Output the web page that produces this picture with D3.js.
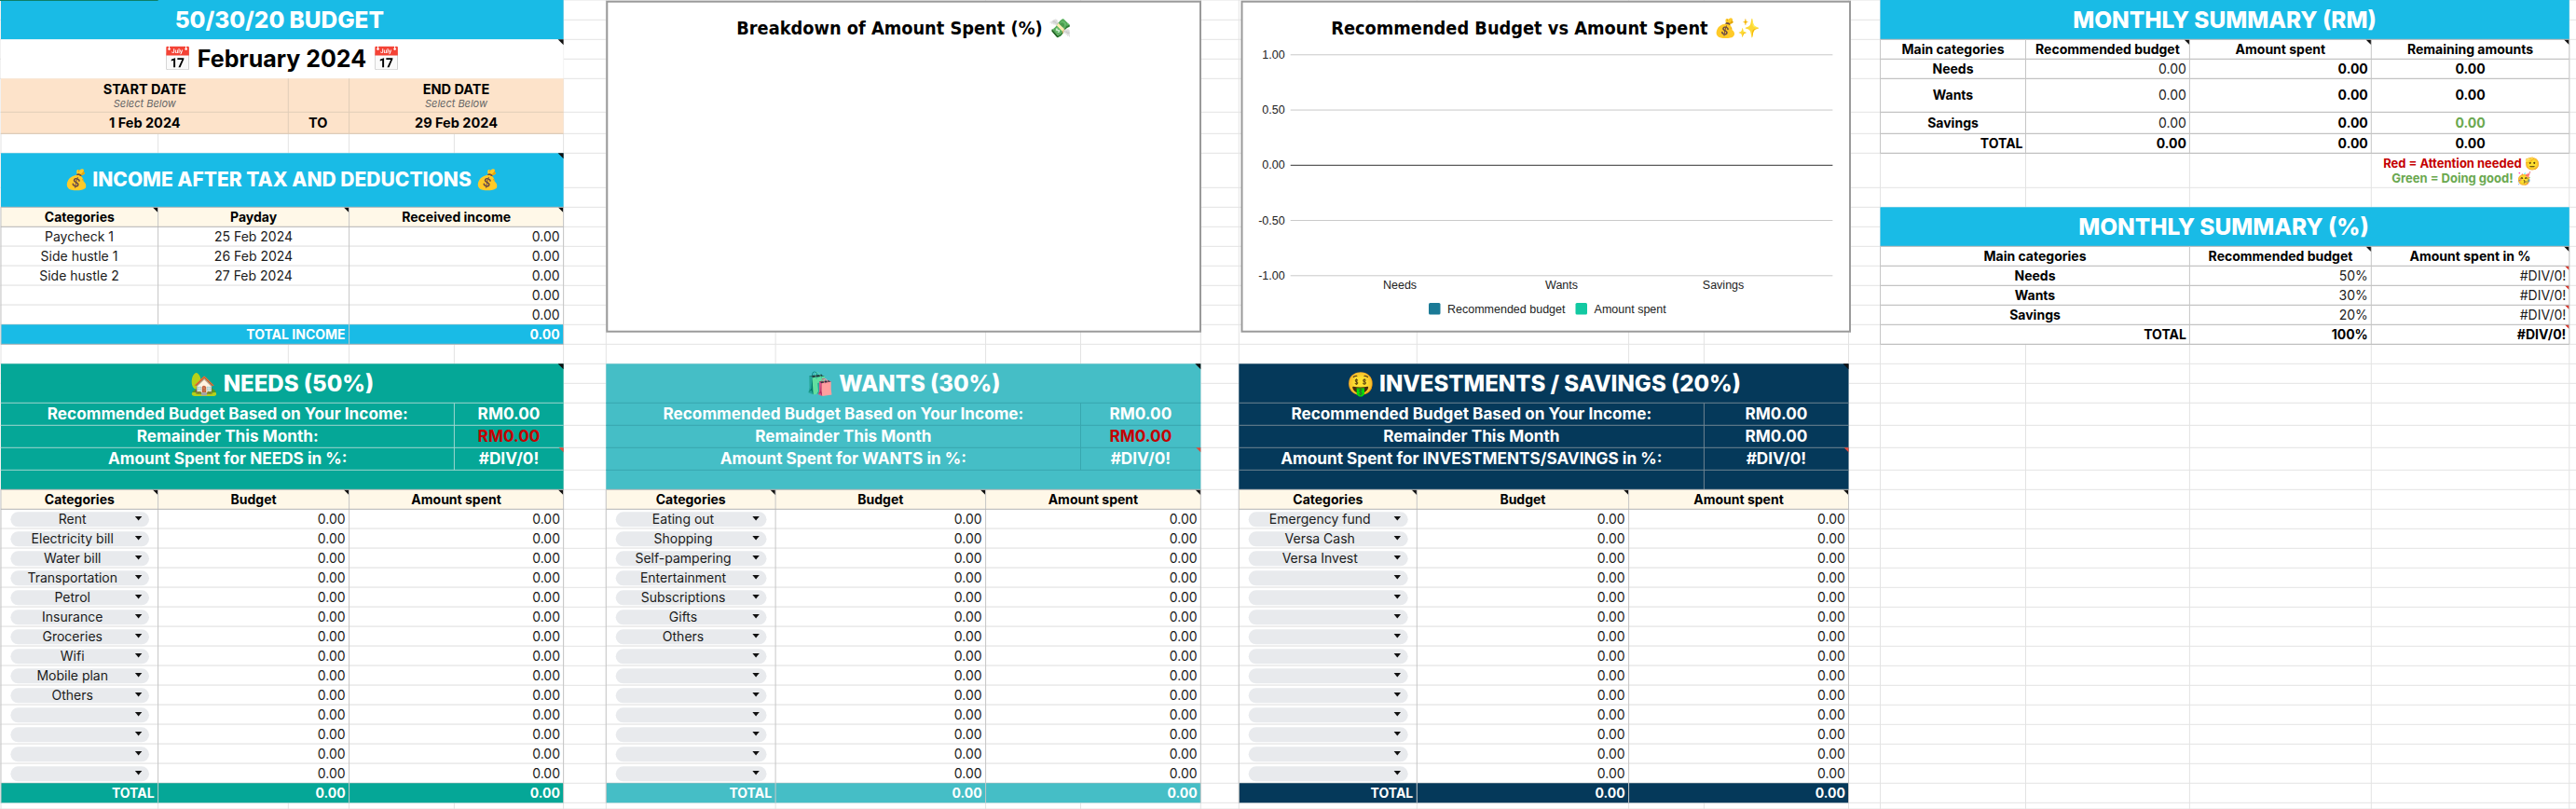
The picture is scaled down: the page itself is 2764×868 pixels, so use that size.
<!DOCTYPE html>
<html><head><meta charset="utf-8">
<script src="https://cdn.jsdelivr.net/npm/d3@7/dist/d3.min.js"></script>
<style>html,body{margin:0;padding:0;background:#fff;overflow:hidden}
text{font-family:Inter,"Noto Sans",sans-serif}</style></head>
<body><svg id="s" width="2764" height="868" viewBox="0 0 2764 868"></svg>
<script>
// ---------- data ----------
const needsCategories=["Rent","Electricity bill","Water bill","Transportation","Petrol","Insurance","Groceries","Wifi","Mobile plan","Others","","","",""];
const wantsCategories=["Eating out","Shopping","Self-pampering","Entertainment","Subscriptions","Gifts","Others","","","","","","",""];
const savingsCategories=["Emergency fund","Versa Cash","Versa Invest","","","","","","","","","","",""];
const needsBudget=[0,0,0,0,0,0,0,0,0,0,0,0,0,0];
const needsSpent=[0,0,0,0,0,0,0,0,0,0,0,0,0,0];
const wantsBudget=[0,0,0,0,0,0,0,0,0,0,0,0,0,0];
const wantsSpent=[0,0,0,0,0,0,0,0,0,0,0,0,0,0];
const savingsBudget=[0,0,0,0,0,0,0,0,0,0,0,0,0,0];
const savingsSpent=[0,0,0,0,0,0,0,0,0,0,0,0,0,0];
const incomeCategories=["Paycheck 1","Side hustle 1","Side hustle 2","",""];
const incomePaydays=["25 Feb 2024","26 Feb 2024","27 Feb 2024","",""];
const incomeReceived=[0,0,0,0,0];
const summaryCategories=["Needs","Wants","Savings"];
const recommendedBudget=[0,0,0];
const amountSpent=[0,0,0];
const remainingAmounts=[0,0,0];
const recommendedPct=["50%","30%","20%"];
const spentPct=["#DIV/0!","#DIV/0!","#DIV/0!"];
const yTickValues=[-1,-0.5,0,0.5,1];
const seriesNames=["Recommended budget","Amount spent"];
const breakdownValues=[0,0,0];

// ---------- layout ----------
const W=2764,H=868;
const rowYs=[0,21.3,42.3,63.3,84.3,120.3,143.3,164.3,201.3,222.3,243.3,264.3,285.3,306.3,327.3,348.3,369.3,390.3,411.3,432.3,456.3,480.3,504.3,525.3,546.3,567.3,588.3,609.3,630.3,651.3,672.3,693.3,714.3,735.3,756.3,777.3,798.3,819.3,840.3,861.3];
const colXs=[1,169.6,309.3,374.6,487.4,604.6,650.3,832.1,1057.6,1159.5,1288.3,1329.3,1520.3,1747.6,1828.4,1983.5,2017.5,2173.5,2349.4,2544.3,2756.8];
const C={sky:"#19bbe6",needs:"#05a797",wants:"#45bec6",save:"#05395a",cream:"#fff8e8",peach:"#fde3ca",pill:"#e8eaed",red:"#c40000",green:"#6aa84f",grid:"#e3e3e3",rule:"#b4b4b4",vrule:"#c6c6c6",ink:"#1a1a1a"};
const F={big:25,sec:24.4,sub:17.2,head:14,cell:14};
const W800=800;

const svg=d3.select("#s");
const rect=(x0,y0,x1,y1,fill)=>svg.append("rect").attr("x",x0).attr("y",y0).attr("width",x1-x0).attr("height",y1-y0).attr("fill",fill);
const line=(x0,y0,x1,y1,c,w=1)=>svg.append("line").attr("x1",x0).attr("y1",y0).attr("x2",x1).attr("y2",y1).attr("stroke",c).attr("stroke-width",w);
function txt(x,y,s,o={}){
  const t=svg.append("text").attr("x",x).attr("y",y).attr("dy","0.36em").text(s)
   .attr("font-size",o.size||F.cell).attr("font-weight",o.weight||400).attr("fill",o.fill||C.ink)
   .attr("text-anchor",o.anchor||"middle");
  if(o.italic)t.attr("font-style","italic");
  if(o.family)t.style("font-family",o.family);
  return t;
}
const tri=(xr,yt,c="#111",s=6)=>svg.append("path").attr("d",`M${xr-s},${yt}L${xr},${yt}L${xr},${yt+s}Z`).attr("fill",c);
const num=v=>v.toFixed(2);

// ---------- sheet grid ----------
rect(0,0,W,H,"#fff");
rowYs.concat([868]).forEach(y=>line(0,y,W,y,C.grid));
colXs.forEach(x=>line(x,0,x,H,C.grid));

// ---------- top left panel ----------
const L=1,R=604.6;
rect(L,0,R,42.3,C.sky);
line(0,0.5,169.6,0.5,"#0d7f66",1);
txt((L+R)/2-3,21.3,"50/30/20 BUDGET",{size:F.sec,weight:W800,fill:"#fff"});
rect(L,42.3,R,84.3,"#fff");
txt(302.5,63.3,"📅 February 2024 📅",{size:F.big,weight:700,fill:"#000"});
tri(R,42.3);
rect(L,84.3,R,143.3,C.peach);
line(L,120.3,R,120.3,"#e0cdb8");line(L,143.3,R,143.3,"#d8c6b2");
line(309.3,84.3,309.3,143.3,"#e0cdb8");line(374.6,84.3,374.6,143.3,"#e0cdb8");
txt(155.3,96,"START DATE",{size:F.head+.5,weight:700,fill:"#000"});
txt(489.5,96,"END DATE",{size:F.head+.5,weight:700,fill:"#000"});
txt(155.3,111.5,"Select Below",{size:11,italic:true,fill:"#666"});
txt(489.5,111.5,"Select Below",{size:11,italic:true,fill:"#666"});
txt(155.3,132,"1 Feb 2024",{size:F.head+.5,weight:700,fill:"#000"});
txt(341.3,132,"TO",{size:F.head+.5,weight:700,fill:"#000"});
txt(489.5,132,"29 Feb 2024",{size:F.head+.5,weight:700,fill:"#000"});

// ---------- income ----------
rect(L,164.3,R,222.3,C.sky);tri(R,164.3);
txt(302.5,192.7,"💰 INCOME AFTER TAX AND DEDUCTIONS 💰",{size:21,weight:W800,fill:"#fff"});
const incX=[L,169.6,374.6,R];
rect(L,222.3,R,243.3,C.cream);
["Categories","Payday","Received income"].forEach((h,i)=>{txt((incX[i]+incX[i+1])/2,233,h,{size:F.head,weight:700,fill:"#000"});tri(incX[i+1],222.3);});
const incY=d3.scaleBand().domain(d3.range(incomeReceived.length)).range([243.3,348.3]);
incomeReceived.forEach((v,i)=>{
  const y=incY(i),c=y+incY.bandwidth()/2;
  rect(L,y,R,y+21,"#fff");
  txt(85,c,incomeCategories[i]);
  txt(272,c,incomePaydays[i]);
  txt(R-4,c,num(v),{anchor:"end"});
  line(L,y+21,R,y+21,C.rule);
});
rect(L,348.3,R,369.3,C.sky);
txt(370.6,358.8,"TOTAL INCOME",{anchor:"end",size:F.head,weight:700,fill:"#fff"});
txt(R-4,358.8,num(d3.sum(incomeReceived)),{anchor:"end",size:F.head,weight:700,fill:"#fff"});
line(169.6,222.3,169.6,348.3,C.vrule);
line(374.6,222.3,374.6,369.3,C.vrule);
[L,R].forEach(x=>line(x,222.3,x,369.3,C.vrule));
line(L,222.3,R,222.3,C.rule);line(L,243.3,R,243.3,C.rule);line(L,369.3,R,369.3,C.rule);

// ---------- three budget blocks ----------
function block(b){
  const [x0,x1,x2,x3,x4]=b.cols;
  rect(x0,390.3,x4,525.3,b.color);tri(x4,390.3);
  txt((x0+x4)/2,411.7,b.title,{size:F.sec-.4,weight:W800,fill:"#fff"});
  [432.3,456.3,480.3,504.3].forEach(y=>line(x0,y,x4,y,b.rule));
  line(x3,432.3,x3,b.vEnd,b.rule);
  const mid=(x0+x3)/2,vm=(x3+x4)/2;
  b.rows.forEach((r,i)=>{
    const y=[444.3,468.3,492.3][i];
    txt(mid,y,r,{size:F.sub,weight:700,fill:"#fff"});
    txt(vm,y,b.vals[i],{size:F.sub,weight:700,fill:b.valFill[i]});
  });
  tri(x4,480.3,"#e04a3c",5);
  rect(x0,525.3,x4,546.3,C.cream);
  [["Categories",x0,x1],["Budget",x1,x2],["Amount spent",x2,x4]].forEach(([h,a,c])=>{txt((a+c)/2,536,h,{size:F.head,weight:700,fill:"#000"});tri(c,525.3);});
  const y=d3.scaleBand().domain(d3.range(b.cats.length)).range([546.3,840.3]);
  b.cats.forEach((n,i)=>{
    const t=y(i),c=t+y.bandwidth()/2;
    rect(x0,t,x4,t+21,"#fff");
    rect(x0+10.4,t+3,x1-9.6,t+19,C.pill).attr("rx",8);
    txt(x0+(x1-x0)*0.455,c,n);
    const ax=x1-21;
    svg.append("path").attr("d",`M${ax-3.7},${c-2.8}L${ax+3.7},${c-2.8}L${ax},${c+1.6}Z`).attr("fill","#111");
    txt(x2-4,c,num(b.budget[i]),{anchor:"end"});
    txt(x4-3.6,c,num(b.spent[i]),{anchor:"end"});
    line(x0,t+21,x4,t+21,C.rule);
  });
  rect(x0,840.3,x4,861.3,b.color);
  txt(x1-4,851,"TOTAL",{anchor:"end",size:F.head,weight:700,fill:"#fff"});
  txt(x2-4,851,num(d3.sum(b.budget)),{anchor:"end",size:F.head,weight:700,fill:"#fff"});
  txt(x4-3.6,851,num(d3.sum(b.spent)),{anchor:"end",size:F.head,weight:700,fill:"#fff"});
  [x0,x1,x2,x4].forEach(x=>line(x,525.3,x,861.3,C.vrule));
  line(x0,525.3,x4,525.3,C.rule);line(x0,546.3,x4,546.3,C.rule);
}
block({cols:[1,169.6,374.6,487.4,604.6],color:C.needs,rule:"#9fd6cf",vEnd:504.3,title:"🏡 NEEDS (50%)",cats:needsCategories,budget:needsBudget,spent:needsSpent,
  rows:["Recommended Budget Based on Your Income:","Remainder This Month:","Amount Spent for NEEDS in %:"],vals:["RM0.00","RM0.00","#DIV/0!"],valFill:["#fff",C.red,"#fff"]});
block({cols:[650.3,832.1,1057.6,1159.5,1288.3],color:C.wants,rule:"#38a6ae",vEnd:504.3,title:"🛍️ WANTS (30%)",cats:wantsCategories,budget:wantsBudget,spent:wantsSpent,
  rows:["Recommended Budget Based on Your Income:","Remainder This Month","Amount Spent for WANTS in %:"],vals:["RM0.00","RM0.00","#DIV/0!"],valFill:["#fff",C.red,"#fff"]});
block({cols:[1329.3,1520.3,1747.6,1828.4,1983.5],color:C.save,rule:"#6f8592",vEnd:525.3,title:"🤑 INVESTMENTS / SAVINGS (20%)",cats:savingsCategories,budget:savingsBudget,spent:savingsSpent,
  rows:["Recommended Budget Based on Your Income:","Remainder This Month","Amount Spent for INVESTMENTS/SAVINGS in %:"],vals:["RM0.00","RM0.00","#DIV/0!"],valFill:["#fff","#fff","#fff"]});

// ---------- charts ----------
function chartBox(x0,x1){rect(x0,1.7,x1,355.7,"#fff").attr("stroke","#9a9a9a").attr("stroke-width",2);}
chartBox(651.3,1288);
chartBox(1332.5,1985);
const titleFont='"DejaVu Sans Condensed","DejaVu Sans",sans-serif';
txt(970,30,"Breakdown of Amount Spent (%) 💸",{size:19.8,weight:700,fill:"#000",family:titleFont});
txt(1658.5,30,"Recommended Budget vs Amount Spent 💰✨",{size:19.8,weight:700,fill:"#000",family:titleFont});
// pie (all zero in the reference, so nothing visible)
const pieG=svg.append("g").attr("transform","translate(970,190)");
pieG.selectAll("path").data(d3.pie()(breakdownValues)).join("path").attr("d",d3.arc().innerRadius(0).outerRadius(130)).attr("fill","#1c7a96");

const yS=d3.scaleLinear().domain([-1,1]).range([295.3,58.3]);
const xS=d3.scaleBand().domain(summaryCategories).range([1415.3,1935.8]);
const x1S=d3.scaleBand().domain(seriesNames).range([0,xS.bandwidth()]).padding(.1);
const sansAxis='"Liberation Sans",Arial,sans-serif';
const gy=svg.append("g").attr("transform","translate(1384.7,0)")
 .call(d3.axisLeft(yS).tickValues(yTickValues).tickFormat(d=>d.toFixed(2)).tickSizeInner(-581.7).tickSizeOuter(0).tickPadding(6));
gy.select(".domain").remove();
gy.selectAll("line").attr("stroke",d=>d===0?"#333":"#c8c8c8").attr("stroke-width",1);
gy.selectAll("text").style("font-family",sansAxis).attr("font-size",12.5).attr("fill","#222");
const gx=svg.append("g").attr("transform","translate(0,295.3)")
 .call(d3.axisBottom(xS).tickSize(0).tickPadding(6));
gx.select(".domain").remove();
gx.selectAll("text").style("font-family",sansAxis).attr("font-size",12.5).attr("fill","#222");
const seriesColors=["#1b7a96","#12c9a2"];
[recommendedBudget,amountSpent].forEach((vals,k)=>{
  svg.append("g").selectAll("rect").data(vals).join("rect")
   .attr("x",(d,i)=>xS(summaryCategories[i])+x1S(seriesNames[k]))
   .attr("width",x1S.bandwidth())
   .attr("y",d=>yS(Math.max(0,d))).attr("height",d=>Math.abs(yS(d)-yS(0))).attr("fill",seriesColors[k]);
});
[[1533,1553],[1690.5,1710.6]].forEach(([sx,tx],i)=>{
  rect(sx,325,sx+12.5,337.5,seriesColors[i]).attr("rx",1.5);
  txt(tx,331,seriesNames[i],{anchor:"start",size:12.5,family:sansAxis,fill:"#222"});
});

// ---------- monthly summary RM ----------
const sx=[2017.5,2173.5,2349.4,2544.3,2756.8];
rect(sx[0],0,sx[4],42.3,C.sky);
txt(2387,21.3,"MONTHLY SUMMARY (RM)",{size:F.sec,weight:W800,fill:"#fff"});
rect(sx[0],42.3,sx[4],164.3,"#fff");
["Main categories","Recommended budget","Amount spent","Remaining amounts"].forEach((h,i)=>{
  txt((sx[i]+sx[i+1])/2,53,h,{size:F.head,weight:700,fill:"#000"});if(i)tri(sx[i+1],42.3);
});
const rmRows=[[63.3,84.3],[84.3,120.3],[120.3,143.3]];
summaryCategories.forEach((n,i)=>{
  const [a,b]=rmRows[i],c=(a+b)/2;
  txt(2095.5,c,n,{size:F.head,weight:700,fill:"#000"});
  txt(sx[2]-3.5,c,num(recommendedBudget[i]),{anchor:"end"});
  txt(sx[3]-3.5,c,num(amountSpent[i]),{anchor:"end",size:F.head,weight:700,fill:"#000"});
  txt(2650.5,c,num(remainingAmounts[i]),{size:F.head,weight:700,fill:i==2?C.green:"#000"});
});
txt(sx[1]-3,153.8,"TOTAL",{anchor:"end",size:F.head,weight:700,fill:"#000"});
txt(sx[2]-3.5,153.8,num(d3.sum(recommendedBudget)),{anchor:"end",size:F.head,weight:700,fill:"#000"});
txt(sx[3]-3.5,153.8,num(d3.sum(amountSpent)),{anchor:"end",size:F.head,weight:700,fill:"#000"});
txt(2650.5,153.8,num(d3.sum(remainingAmounts)),{size:F.head,weight:700,fill:"#000"});
[42.3,63.3,84.3,120.3,143.3,164.3].forEach(y=>line(sx[0],y,sx[4],y,C.rule));
sx.forEach(x=>line(x,42.3,x,164.3,C.vrule));
txt(2641,175.3,"Red = Attention needed 🫡",{size:13,weight:700,fill:C.red});
txt(2641,191.7,"Green = Doing good! 🥳",{size:13,weight:700,fill:C.green});

// ---------- monthly summary % ----------
rect(sx[0],222.3,sx[4],264.3,C.sky);
txt(2386,243.3,"MONTHLY SUMMARY (%)",{size:F.sec,weight:W800,fill:"#fff"});
rect(sx[0],264.3,sx[4],369.3,"#fff");
txt(2183.5,275,"Main categories",{size:F.head,weight:700,fill:"#000"});
txt(2447,275,"Recommended budget",{size:F.head,weight:700,fill:"#000"});tri(sx[3],264.3);
txt(2650.5,275,"Amount spent in %",{size:F.head,weight:700,fill:"#000"});tri(sx[4],264.3);
const pctY=d3.scaleBand().domain(summaryCategories).range([285.3,348.3]);
summaryCategories.forEach((n,i)=>{
  const c=pctY(n)+10.5;
  txt(2183.5,c,n,{size:F.head,weight:700,fill:"#000"});
  txt(sx[3]-3.5,c,recommendedPct[i],{anchor:"end"});
  txt(sx[4]-3.5,c,spentPct[i],{anchor:"end"});
  tri(sx[4],pctY(n),"#d9362b",5);
});
txt(sx[2]-3.5,358.8,"TOTAL",{anchor:"end",size:F.head,weight:700,fill:"#000"});
txt(sx[3]-3.5,358.8,"100%",{anchor:"end",size:F.head,weight:700,fill:"#000"});
txt(sx[4]-3.5,358.8,"#DIV/0!",{anchor:"end",size:F.head,weight:700,fill:"#000"});
tri(sx[4],348.3,"#d9362b",5);
[264.3,285.3,306.3,327.3,348.3,369.3].forEach(y=>line(sx[0],y,sx[4],y,C.rule));
[sx[0],sx[2],sx[3],sx[4]].forEach(x=>line(x,264.3,x,369.3,C.vrule));
</script></body></html>
